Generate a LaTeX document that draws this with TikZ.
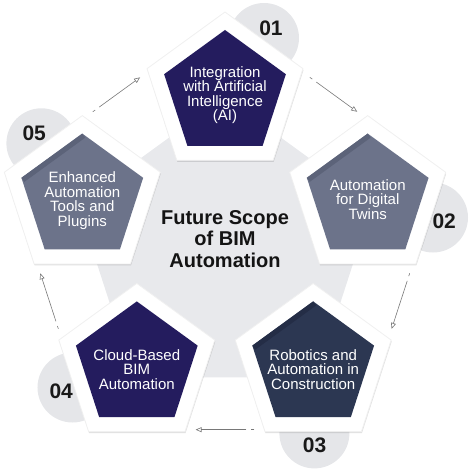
\documentclass[tikz,border=0pt]{standalone}
\usepackage{fontspec}
\setmainfont{Liberation Sans}
\usetikzlibrary{shapes.geometric,arrows.meta,shadows}
\definecolor{navy}{RGB}{36,28,94}
\definecolor{slate}{RGB}{108,115,138}
\definecolor{slatedark}{RGB}{92,99,121}
\definecolor{inkslate}{RGB}{44,55,82}
\definecolor{inkslatedark}{RGB}{36,45,70}
\definecolor{coregrey}{RGB}{232,233,236}
\definecolor{badgegrey}{RGB}{229,230,233}
\definecolor{arrowgrey}{RGB}{120,120,120}

\begin{document}
\begin{tikzpicture}[x=1pt,y=1pt,
  pent/.style={regular polygon,regular polygon sides=5,inner sep=0pt,outer sep=0pt},
  tileframe/.style={pent,fill=white,draw=black!6,line width=0.8pt,minimum size=164pt,
    drop shadow={shadow xshift=0.5pt,shadow yshift=-1.5pt,opacity=0.12,fill=black}},
  tilebox/.style={pent,minimum size=128pt},
  tiletext/.style={align=center,text=white,font=\fontsize{15}{14.5}\selectfont},
  badge/.style={circle,fill=badgegrey,minimum size=70pt,inner sep=0pt},
  badgenum/.style={font=\bfseries\fontsize{21}{21}\selectfont,text=black!90},
  flowarrow/.style={draw=arrowgrey,line width=0.6pt,-{Triangle[open,length=6pt,width=5pt]},
    dash pattern=on 3pt off 5pt on 200pt off 0pt}]
 \useasboundingbox (-225,-230) rectangle (249,244);
 \node[pent,fill=coregrey,minimum size=310pt] (core) at (0,-8) {};
 \node[badge] (b1) at (39,206) {};
 \node[badge] (b2) at (208,26.5) {};
 \node[badge] (b3) at (89.4,-189.4) {};
 \node[badge] (b4) at (-152.5,-143.5) {};
 \node[badge] (b5) at (-183.6,100.7) {};
 \node[tileframe] (f1) at (0,150) {};
 \node[tileframe] (f2) at (142.7,46.4) {};
 \node[tileframe] (f3) at (88.2,-121.4) {};
 \node[tileframe] (f4) at (-88.2,-121.4) {};
 \node[tileframe] (f5) at (-142.7,46.4) {};
 \node[tilebox,fill=navy] (t1) at (f1) {};
 \node[tilebox,fill=slate] (t2) at (f2) {};
 \node[tilebox,fill=inkslate] (t3) at (f3) {};
 \node[tilebox,fill=navy] (t4) at (f4) {};
 \node[tilebox,fill=slate] (t5) at (f5) {};
 \begin{scope}
  \clip (t2.corner 1) -- (t2.corner 2) -- (t2.corner 3) -- (t2.corner 4) -- (t2.corner 5) -- cycle;
  \draw[line width=10pt,slatedark] (t2.corner 1) -- (t2.corner 2);
 \end{scope}
 \begin{scope}
  \clip (t3.corner 1) -- (t3.corner 2) -- (t3.corner 3) -- (t3.corner 4) -- (t3.corner 5) -- cycle;
  \draw[line width=10pt,inkslatedark] (t3.corner 1) -- (t3.corner 2);
 \end{scope}
 \begin{scope}
  \clip (t5.corner 1) -- (t5.corner 2) -- (t5.corner 3) -- (t5.corner 4) -- (t5.corner 5) -- cycle;
  \draw[line width=10pt,slatedark] (t5.corner 1) -- (t5.corner 2);
 \end{scope}
 \node[tiletext] (l1) at ([yshift=-1pt]t1.center) {Integration\\with Artificial\\Intelligence\\(AI)};
 \node[tiletext] (l2) at ([yshift=-2pt]t2.center) {Automation\\for Digital\\Twins};
 \node[tiletext] (l3) at ([yshift=-4pt]t3.center) {Robotics and\\Automation in\\Construction};
 \node[tiletext] (l4) at ([yshift=-4pt]t4.center) {Cloud-Based\\BIM\\Automation};
 \node[tiletext] (l5) at ([yshift=-3pt]t5.center) {Enhanced\\Automation\\Tools and\\Plugins};
 \node[align=center,text=black!92,font=\bfseries\fontsize{20}{21.5}\selectfont] (title) at (0,5) {Future Scope\\of BIM\\Automation};
 \node[badgenum] (n1) at (46,215.5) {01};
 \node[badgenum] (n2) at (219.2,23) {02};
 \node[badgenum] (n3) at (89.6,-201.4) {03};
 \node[badgenum] (n4) at (-163.8,-147.4) {04};
 \node[badgenum] (n5) at (-190.8,110.3) {05};
 \coordinate (a1s) at (135:187);
 \coordinate (a1e) at (117:187);
 \coordinate (a2s) at (63:187);
 \coordinate (a2e) at (45:187);
 \coordinate (a3s) at (-9:187);
 \coordinate (a3e) at (-27:187);
 \coordinate (a4s) at (-81:188);
 \coordinate (a4e) at (-99:188);
 \coordinate (a5s) at (-153:187);
 \coordinate (a5e) at (-171:187);
 \draw[flowarrow] (a1s) -- (a1e);
 \draw[flowarrow] (a2s) -- (a2e);
 \draw[flowarrow] (a3s) -- (a3e);
 \draw[flowarrow] (a4s) -- (a4e);
 \draw[flowarrow] (a5s) -- (a5e);
\end{tikzpicture}
\end{document}
